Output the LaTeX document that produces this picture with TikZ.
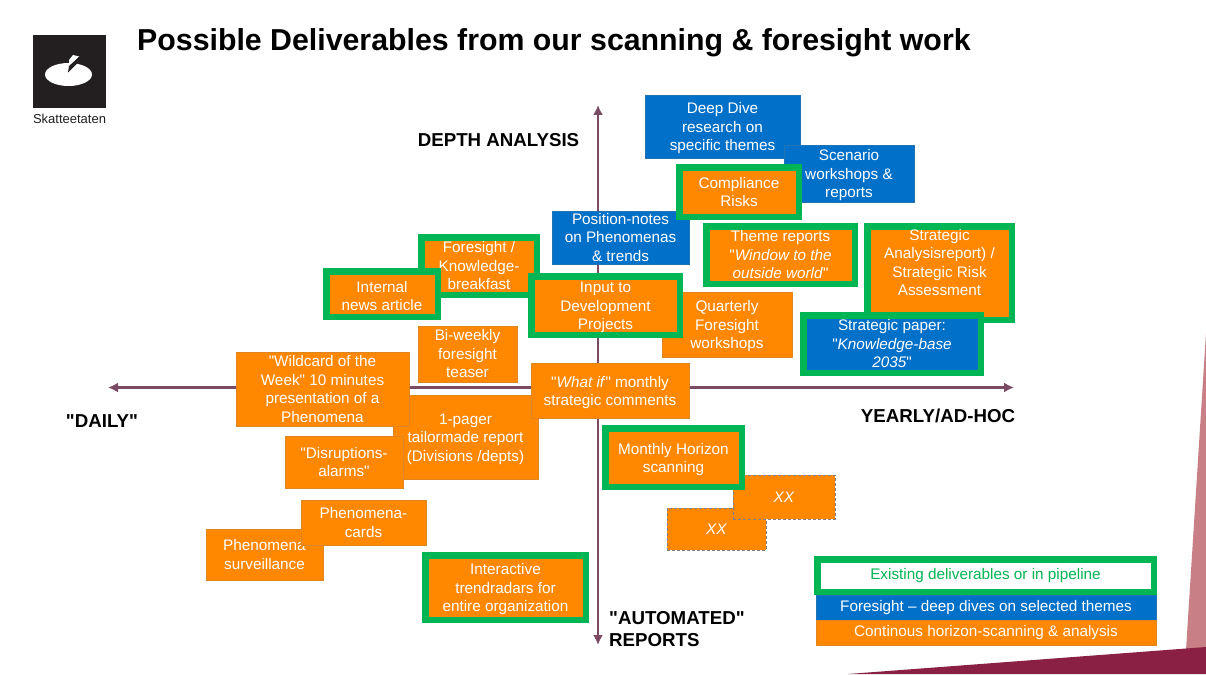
\documentclass[tikz,border=0pt]{standalone}
\usepackage{fontspec}
\setmainfont[Ligatures=TeXOff]{Liberation Sans}
\usetikzlibrary{arrows.meta}
\definecolor{boxorange}{HTML}{FF8800}
\definecolor{boxblue}{HTML}{0070C8}
\definecolor{framegreen}{HTML}{00B553}
\definecolor{axisplum}{HTML}{7A4A62}
\definecolor{slidepink}{HTML}{C87F85}
\definecolor{slidewine}{HTML}{8A2145}
\definecolor{logoblack}{HTML}{231F20}
\newcommand{\dropline}{\rule{0pt}{12pt}\\[-15.5pt]}
\begin{document}
\begin{tikzpicture}[x=1pt, y=-1pt,
                    bag/.style={inner sep=0pt, outer sep=0pt, align=center, text=white, font=\fontsize{15.3}{18.5}\selectfont},
                    orangebox/.style={bag, fill=boxorange, draw=boxorange!75!gray, line width=0.8pt},
                    bluebox/.style={bag, fill=boxblue, draw=boxblue!75!gray, line width=0.8pt},
                    dashbox/.style={orangebox, draw=black!50, densely dashed, line width=0.6pt},
                    framed/.style={draw=framegreen, line width=6.5pt},
                    axisline/.style={axisplum, line width=2.2pt, {Latex[length=10pt,width=10pt]}-{Latex[length=10pt,width=10pt]}},
                    axislabel/.style={font=\fontsize{18.7}{22}\selectfont\bfseries, inner sep=0pt, align=left}]
\useasboundingbox (0,0) rectangle (1206,674);
\fill[white] (0,0) rectangle (1206,674);
\fill[slidepink] (1206,333) -- (1186,650) -- (1206,650) -- cycle;
\fill[slidewine] (848,674) -- (1206,647) -- (1206,674) -- cycle;

\fill[logoblack] (33,35) rectangle (106,108);
\fill[white] (68.5,74.5) ellipse [x radius=23.5, y radius=11.5];
\fill[white] (69,60) -- (73,55) -- (79,56.5) -- (69,67) -- cycle;
\fill[logoblack] (68,72.5) -- (69,66) -- (79,57) -- (80.5,60) -- cycle;
\node[font=\fontsize{13}{15}\selectfont, text=logoblack, inner sep=0pt] (logotext) at (69.5,118.5) {Skatteetaten};

\node[font=\fontsize{30.3}{36}\selectfont\bfseries, inner sep=0pt, anchor=west] (title) at (137,43) {Possible Deliverables from our scanning \& foresight work};

\coordinate (axistop) at (598,105);
\coordinate (axisbottom) at (598,645);
\coordinate (axisleft) at (108,387.5);
\coordinate (axisright) at (1014,387.5);
\draw[axisline] (axisbottom) -- (axistop);
\draw[axisline] (axisleft) -- (axisright);

\node[axislabel] (depth) at (498.5,140.5) {DEPTH ANALYSIS};
\node[axislabel] (daily) at (102,421.5) {"DAILY"};
\node[axislabel] (yearly) at (938,415.5) {YEARLY/AD-HOC};
\node[axislabel, anchor=north west] (automated) at (609,611) {"AUTOMATED"\\REPORTS};

\node[bluebox, minimum width=155, minimum height=63] (deepdive) at (722.5,126.5) {\dropline Deep Dive\\research on\\specific themes};
\node[bluebox, minimum width=130, minimum height=57] (scenario) at (849,173.5) {\dropline Scenario\\workshops \&\\reports};
\node[bluebox, minimum width=137, minimum height=53] (position) at (620.5,237.5) {Position-notes\\on Phenomenas\\\& trends};
\node[orangebox, framed, minimum width=119.5, minimum height=49.5] (compliance) at (739,192) {Compliance\\Risks};
\node[orangebox, framed, minimum width=148.5, minimum height=57.5] (theme) at (780.5,255) {Theme reports\\"\textit{Window to the}\\\textit{outside world}"};
\node[orangebox, framed, minimum width=144.5, minimum height=93.5] (strategic) at (939.5,273) {Strategic\\Analysisreport) /\\Strategic Risk\\Assessment\\[3pt]~};
\node[bluebox, framed, minimum width=177.5, minimum height=57.5] (paper) at (892,344) {Strategic paper:\\"\textit{Knowledge-base}\\\textit{2035}"};
\node[orangebox, minimum width=130, minimum height=65] (quarterly) at (727,324.5) {\dropline Quarterly\\Foresight\\workshops};
\node[orangebox, framed, minimum width=115.5, minimum height=57.5] (breakfast) at (479,266) {Foresight /\\Knowledge-\\breakfast};
\node[orangebox, framed, minimum width=111.5, minimum height=45.5] (internal) at (382,294) {\dropline Internal\\news article};
\node[orangebox, framed, minimum width=148.5, minimum height=58.5] (input) at (605.5,305.5) {\dropline Input to\\Development\\Projects};
\node[orangebox, minimum width=99, minimum height=56] (teaser) at (467.5,354) {Bi-weekly\\foresight\\teaser};
\node[orangebox, minimum width=145, minimum height=84] (onepager) at (465.5,437) {\dropline 1-pager\\tailormade report\\(Divisions /depts)};
\node[orangebox, minimum width=173, minimum height=74] (wildcard) at (322.5,389) {"Wildcard of the\\Week" 10 minutes\\presentation of a\\Phenomena};
\node[orangebox, minimum width=158, minimum height=55] (whatif) at (610,390.5) {\dropline"\textit{What if}" monthly\\strategic comments};
\node[orangebox, minimum width=118, minimum height=52] (disruptions) at (344,462) {"Disruptions-\\alarms"};
\node[dashbox, minimum width=99, minimum height=42] (xxlow) at (716.5,529) {\textit{XX}};
\node[dashbox, minimum width=102, minimum height=44] (xxhigh) at (784,497) {\textit{XX}};
\node[orangebox, framed, minimum width=136.5, minimum height=58.5] (horizon) at (673.5,457.5) {\dropline Monthly Horizon\\scanning};
\node[orangebox, minimum width=117, minimum height=51] (surveillance) at (264.5,554.5) {Phenomena\\surveillance};
\node[orangebox, minimum width=125, minimum height=45] (cards) at (363.5,522.5) {Phenomena-\\cards};
\node[orangebox, framed, minimum width=160.5, minimum height=64.5] (trendradar) at (505.5,587.5) {\dropline Interactive\\trendradars for\\entire organization};

\node[bag, framed, fill=white, text=framegreen, minimum width=336.5, minimum height=32.5] (legendgreen) at (985.5,575.5) {Existing deliverables or in pipeline};
\node[bluebox, minimum width=340, minimum height=25] (legendblue) at (986,607.5) {Foresight – deep dives on selected themes};
\node[orangebox, minimum width=340, minimum height=25] (legendorange) at (986,632.5) {Continous horizon-scanning \& analysis};
\end{tikzpicture}
\end{document}
